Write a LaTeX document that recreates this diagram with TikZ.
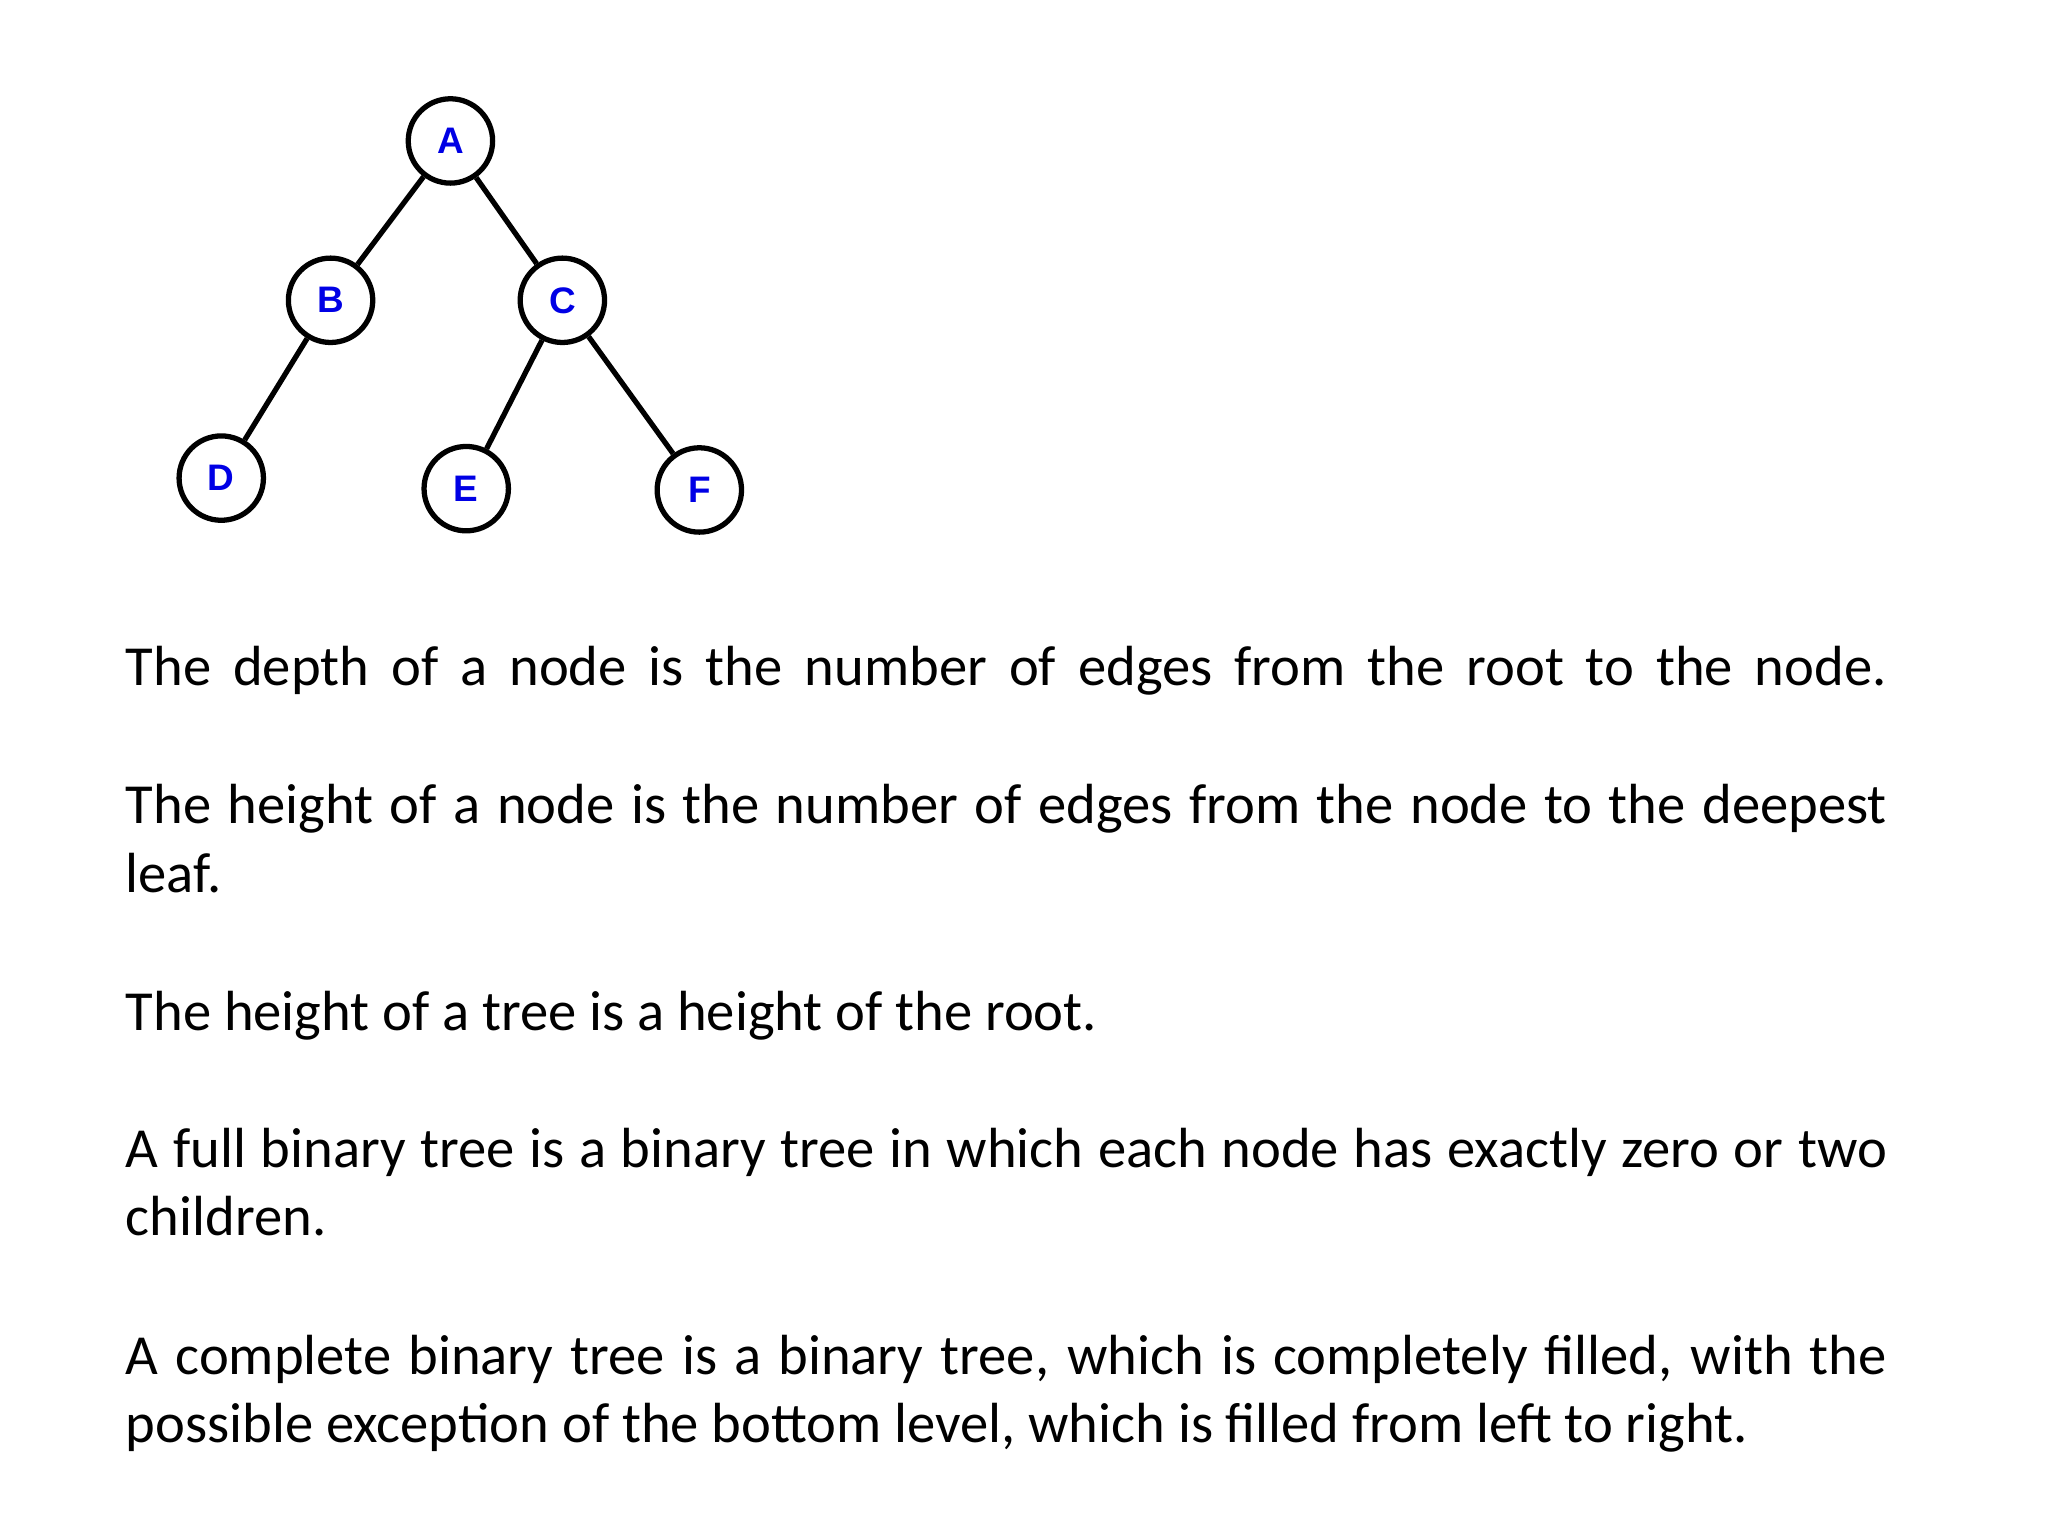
\documentclass[tikz,border=0pt]{standalone}
\usepackage{fontspec}
\setmainfont{Carlito}
\newfontfamily\lblfont{Liberation Sans}
\begin{document}
\begin{tikzpicture}[x=0.013170cm,y=-0.013170cm,
  tn/.style={circle,draw,line width=1.5pt,minimum size=24pt,inner sep=0pt,font=\lblfont\bfseries\fontsize{10.5}{12}\selectfont,text=blue!90!black},
  ed/.style={line width=1.5pt},
  para/.style={anchor=north west,inner sep=0pt,text width=501pt,align=justify,font=\fontsize{16.1}{19.5}\selectfont}]
\useasboundingbox (0,0) rectangle (1555,1166);
\node[tn] (A) at (342,107) {A};
\node[tn] (B) at (251,228) {B};
\node[tn] (C) at (427,228) {C};
\node[tn] (D) at (168,363) {D};
\node[tn] (E) at (354,371) {E};
\node[tn] (F) at (531,372) {F};
\draw[ed] (A)--(B); \draw[ed] (A)--(C); \draw[ed] (B)--(D);
\draw[ed] (C)--(E); \draw[ed] (C)--(F);
\node[para] (p1) at (95,490) {The depth of a node is the number of edges from the root to the node.\parfillskip=0pt\par};
\node[para] (p2) at (95,595) {The height of a node is the number of edges from the node to the deepest leaf.};
\node[para] (p3) at (95,752) {The height of a tree is a height of the root.};
\node[para] (p4) at (95,856) {A full binary tree is a binary tree in which each node has exactly zero or two children.};
\node[para] (p5) at (95,1013) {A complete binary tree is a binary tree, which is completely filled, with the possible exception of the bottom level, which is filled from left to right.};
\end{tikzpicture}
\end{document}
